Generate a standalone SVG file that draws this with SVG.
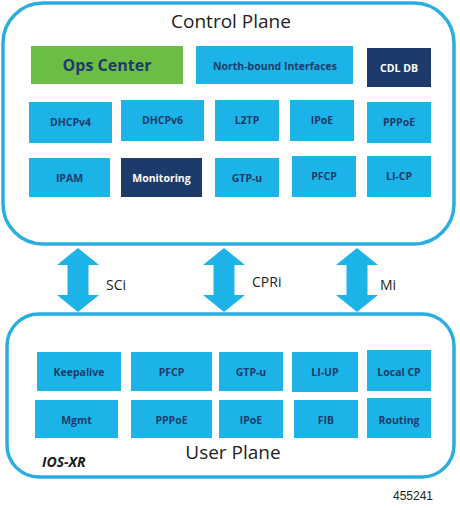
<svg xmlns="http://www.w3.org/2000/svg" width="460" height="510" viewBox="0 0 460 510">
<style>
.plane{fill:#fff;stroke:#2aaee2;stroke-width:3.5}
.b{fill:#1cb4e8}
.g{fill:#6cbd45}
.d{fill:#1d3b6a}
.t{font-family:"Open Sans","Liberation Sans",sans-serif;font-weight:bold;font-size:10.5px;fill:#1d3b6a;text-anchor:middle}
.w{fill:#fff}
.title{font-family:"Open Sans","Liberation Sans",sans-serif;font-size:19px;fill:#222;text-anchor:middle}
.lab{font-family:"Open Sans","Liberation Sans",sans-serif;font-size:14px;fill:#222}
.arr{fill:#1cb4e8}
</style>
<defs>
<path id="da" d="M0,0 L21,17 L10.5,17 L10.5,47 L21,47 L0,64 L-21,47 L-10.5,47 L-10.5,17 L-21,17 Z"/>
</defs>
<g id="control-plane">
<rect class="plane" x="3" y="3" width="451" height="241" rx="40"/>
<text class="title" x="231" y="28">Control Plane</text>
</g>
<g id="ops-center"><rect class="g" x="31" y="46" width="152" height="38"/><text class="t" x="107" y="71" style="font-size:16px">Ops Center</text></g>
<g id="northbound"><rect class="b" x="196" y="46" width="157" height="38"/><text class="t" x="275" y="70">North-bound Interfaces</text></g>
<g id="cdl-db"><rect class="d" x="367" y="48" width="64" height="39"/><text class="t w" x="399" y="72">CDL DB</text></g>
<g id="dhcpv4"><rect class="b" x="29" y="102" width="83" height="41"/><text class="t" x="70.5" y="126">DHCPv4</text></g>
<g id="dhcpv6"><rect class="b" x="121" y="100" width="83" height="41"/><text class="t" x="162.5" y="124">DHCPv6</text></g>
<g id="l2tp"><rect class="b" x="215" y="100" width="64" height="41"/><text class="t" x="247" y="124">L2TP</text></g>
<g id="ipoe-cp"><rect class="b" x="290" y="100" width="64" height="41"/><text class="t" x="322" y="124">IPoE</text></g>
<g id="pppoe-cp"><rect class="b" x="367" y="102" width="64" height="41"/><text class="t" x="399" y="126">PPPoE</text></g>
<g id="ipam"><rect class="b" x="29" y="158" width="81" height="39"/><text class="t" x="69.5" y="182">IPAM</text></g>
<g id="monitoring"><rect class="d" x="121" y="158" width="81" height="39"/><text class="t w" x="161.5" y="182">Monitoring</text></g>
<g id="gtpu-cp"><rect class="b" x="215" y="158" width="64" height="39"/><text class="t" x="247" y="182">GTP-u</text></g>
<g id="pfcp-cp"><rect class="b" x="292" y="156" width="64" height="41"/><text class="t" x="324" y="180">PFCP</text></g>
<g id="li-cp"><rect class="b" x="367" y="156" width="64" height="41"/><text class="t" x="399" y="180">LI-CP</text></g>
<g id="connectors">
<use href="#da" class="arr" x="78" y="248"/>
<use href="#da" class="arr" x="224" y="248"/>
<use href="#da" class="arr" x="357" y="248"/>
<text class="lab" x="106" y="290">SCi</text>
<text class="lab" x="252" y="287">CPRi</text>
<text class="lab" x="380" y="290">Mi</text>
</g>
<g id="user-plane">
<rect class="plane" x="7" y="314" width="447" height="163" rx="32"/>
<text class="title" x="233" y="459">User Plane</text>
<text class="lab" x="42" y="467" style="font-weight:bold;font-style:italic;fill:#1a1a1a">IOS-XR</text>
</g>
<g id="keepalive"><rect class="b" x="37" y="352" width="84" height="39"/><text class="t" x="79" y="376">Keepalive</text></g>
<g id="pfcp-up"><rect class="b" x="131" y="352" width="81" height="39"/><text class="t" x="171.5" y="376">PFCP</text></g>
<g id="gtpu-up"><rect class="b" x="219" y="352" width="64" height="39"/><text class="t" x="251" y="376">GTP-u</text></g>
<g id="li-up"><rect class="b" x="292" y="352" width="66" height="40"/><text class="t" x="325" y="376">LI-UP</text></g>
<g id="local-cp"><rect class="b" x="367" y="350" width="64" height="41"/><text class="t" x="399" y="376">Local CP</text></g>
<g id="mgmt"><rect class="b" x="35" y="400" width="83" height="38"/><text class="t" x="76.5" y="424">Mgmt</text></g>
<g id="pppoe-up"><rect class="b" x="131" y="400" width="81" height="38"/><text class="t" x="171.5" y="424">PPPoE</text></g>
<g id="ipoe-up"><rect class="b" x="219" y="400" width="64" height="38"/><text class="t" x="251" y="424">IPoE</text></g>
<g id="fib"><rect class="b" x="294" y="400" width="64" height="38"/><text class="t" x="326" y="424">FIB</text></g>
<g id="routing"><rect class="b" x="367" y="398" width="64" height="40"/><text class="t" x="399" y="424">Routing</text></g>
<text x="433" y="500" style="font-family:'Liberation Sans',sans-serif;font-size:12px;fill:#222;text-anchor:end">455241</text>
</svg>
